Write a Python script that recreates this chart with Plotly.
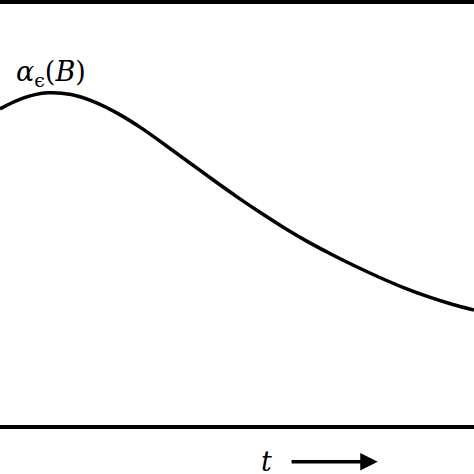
import plotly.graph_objects as go

# time axis (arbitrary units) and alpha_eps(B) values (arbitrary units)
t = [0, 0.5, 1, 1.5, 2, 2.5, 3, 3.5, 4, 4.5, 5, 5.5, 6, 6.5, 7, 7.5, 8, 8.5, 9, 9.5, 10]
alpha = [0.751, 0.777, 0.789, 0.785, 0.767, 0.739, 0.704, 0.664, 0.623, 0.582,
         0.542, 0.504, 0.468, 0.435, 0.405, 0.377, 0.351, 0.327, 0.306, 0.288, 0.273]

fig = go.Figure()
fig.add_trace(go.Scatter(x=t, y=alpha, mode="lines",
                         line=dict(color="black", width=3.5, shape="spline", smoothing=1.0),
                         hoverinfo="skip", showlegend=False))

serif = "DejaVu Serif, Liberation Serif, serif"
fig.add_annotation(x=1.07, y=0.834, xref="x", yref="y",
                   text="<i>α</i><sub>ϵ</sub>(<i>B</i>)", showarrow=False,
                   font=dict(family=serif, size=27, color="black"))
fig.add_annotation(x=5.63, y=-0.087, xref="x", yref="paper", yanchor="middle",
                   text="<i>t</i>", showarrow=False,
                   font=dict(family=serif, size=27, color="black"))
fig.add_annotation(x=7.97, y=-0.087, ax=6.12, ay=0,
                   xref="x", yref="paper", axref="x", ayref="pixel",
                   text="", showarrow=True, arrowhead=2, arrowsize=1.0,
                   arrowwidth=3.5, arrowcolor="black")

fig.update_xaxes(range=[0, 10], showline=True, mirror=True, linewidth=3.5,
                 linecolor="black", showgrid=False, zeroline=False,
                 showticklabels=False, ticks="")
fig.update_yaxes(range=[0, 1], showline=False, showgrid=False, zeroline=False,
                 showticklabels=False, ticks="")
fig.update_layout(width=474, height=474, margin=dict(l=0, r=0, t=2, b=49),
                  plot_bgcolor="white", paper_bgcolor="white")
fig.write_html("out.html", config={"displayModeBar": False},
               post_script="document.body.style.margin='0';")
